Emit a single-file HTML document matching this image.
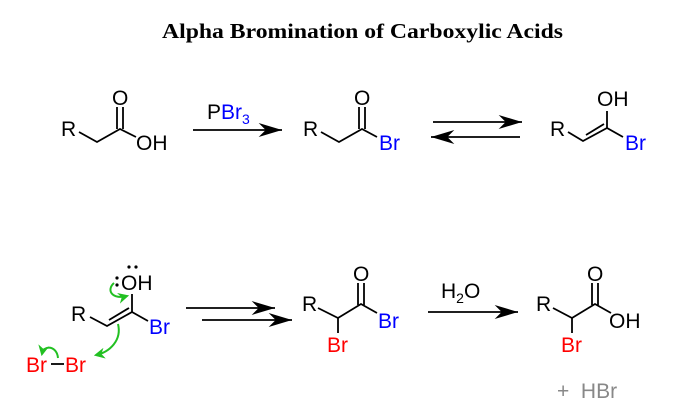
<!DOCTYPE html>
<html><head><meta charset="utf-8"><style>
html,body{margin:0;padding:0;background:#fff;width:693px;height:412px;overflow:hidden}
svg{display:block}
.t{font-family:"Liberation Sans",sans-serif;font-size:21px}
.k{stroke:#000;stroke-width:1.8;fill:none}
.g{stroke:#22c022;stroke-width:2;fill:none}
</style></head><body>
<svg width="693" height="412" viewBox="0 0 693 412">
<defs>
<marker id="big" viewBox="0 0 20 12" markerWidth="26" markerHeight="14" refX="20" refY="6" orient="auto" markerUnits="userSpaceOnUse"><path d="M0,0 L20,6 L0,12 L6,6z" fill="#000"/></marker>
<marker id="gh" viewBox="0 0 10 10" markerWidth="11" markerHeight="11" refX="8" refY="5" orient="auto" markerUnits="userSpaceOnUse"><path d="M0,0 L10,5 L0,10 L3,5z" fill="#22c022"/></marker>
</defs>
<text x="162" y="38" font-family="Liberation Serif,serif" font-weight="bold" font-size="21" textLength="401" lengthAdjust="spacingAndGlyphs">Alpha Bromination of Carboxylic Acids</text>

<!-- mol1 -->
<text class="t" x="61" y="136">R</text>
<polyline class="k" points="79,132 97,142 120,129 136,137"/>
<line class="k" x1="117" y1="107" x2="117" y2="129"/><line class="k" x1="123" y1="107" x2="123" y2="129"/>
<text class="t" x="112" y="105">O</text>
<text class="t" x="136" y="150">OH</text>
<line class="k" x1="193" y1="130" x2="282" y2="130" marker-end="url(#big)"/>
<text class="t" x="207" y="119">P<tspan fill="#0000ff">Br</tspan><tspan fill="#0000ff" font-size="14" dy="5">3</tspan></text>

<!-- mol2 -->
<text class="t" x="303" y="136">R</text>
<polyline class="k" points="321,132 339,142 362,129 377,137"/>
<line class="k" x1="359" y1="107" x2="359" y2="129"/><line class="k" x1="365" y1="107" x2="365" y2="129"/>
<text class="t" x="354" y="105">O</text>
<text class="t" x="379" y="150" fill="#0000ff">Br</text>

<line class="k" x1="433" y1="122" x2="522" y2="122" marker-end="url(#big)"/>
<line class="k" x1="520" y1="137" x2="431" y2="137" marker-end="url(#big)"/>

<!-- mol3 -->
<text class="t" x="550" y="136">R</text>
<polyline class="k" points="568,132 583,141 607,128 623,137"/>
<line class="k" x1="586" y1="135" x2="604" y2="124"/>
<line class="k" x1="607" y1="128" x2="607" y2="111"/>
<text class="t" x="597" y="106">OH</text>
<text class="t" x="625" y="150" fill="#0000ff">Br</text>

<!-- mol4 -->
<text class="t" x="71" y="321">R</text>
<polyline class="k" points="90,317 107,326 132,312 148,321"/>
<line class="k" x1="109" y1="320" x2="129" y2="308"/>
<line class="k" x1="132" y1="312" x2="132" y2="294"/>
<text class="t" x="121" y="290">OH</text>
<circle cx="129" cy="267" r="1.6"/><circle cx="136" cy="267" r="1.6"/>
<circle cx="117" cy="278" r="1.6"/><circle cx="117" cy="285" r="1.6"/>
<text class="t" x="149" y="334" fill="#0000ff">Br</text>
<text class="t" x="26" y="372" fill="#ff0000">Br</text>
<line class="k" x1="51" y1="364" x2="64" y2="364"/>
<text class="t" x="65" y="372" fill="#ff0000">Br</text>
<path class="g" d="M114,283 C106,290 112,300 127,296" marker-end="url(#gh)"/>
<path class="g" d="M118,324 C122,340 110,352 96,355" marker-end="url(#gh)"/>
<path class="g" d="M58,358 C57,346 44,344 42,354" marker-end="url(#gh)"/>

<line class="k" x1="186" y1="308" x2="275" y2="308" marker-end="url(#big)"/>
<line class="k" x1="202" y1="320" x2="292" y2="320" marker-end="url(#big)"/>

<!-- mol5 -->
<text class="t" x="302" y="311">R</text>
<polyline class="k" points="318,308 338,318 361,304 377,313"/>
<line class="k" x1="338" y1="318" x2="338" y2="333"/>
<line class="k" x1="358" y1="283" x2="358" y2="305"/><line class="k" x1="364" y1="283" x2="364" y2="305"/>
<text class="t" x="353" y="281">O</text>
<text class="t" x="378" y="328" fill="#0000ff">Br</text>
<text class="t" x="327" y="352" fill="#ff0000">Br</text>

<line class="k" x1="428" y1="312" x2="518" y2="312" marker-end="url(#big)"/>
<text class="t" x="441" y="298">H<tspan font-size="14" dy="5">2</tspan><tspan dy="-5">O</tspan></text>

<!-- mol6 -->
<text class="t" x="536" y="311">R</text>
<polyline class="k" points="553,308 572,318 595,304 611,313"/>
<line class="k" x1="572" y1="318" x2="572" y2="333"/>
<line class="k" x1="592" y1="283" x2="592" y2="305"/><line class="k" x1="598" y1="283" x2="598" y2="305"/>
<text class="t" x="587" y="281">O</text>
<text class="t" x="609" y="328">OH</text>
<text class="t" x="561" y="352" fill="#ff0000">Br</text>
<text class="t" x="557" y="398" fill="#888">+&#160;&#160;HBr</text>
</svg>
</body></html>
